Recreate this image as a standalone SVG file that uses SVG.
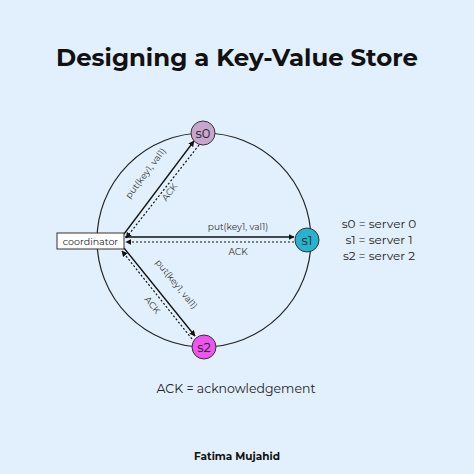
<svg xmlns="http://www.w3.org/2000/svg" width="474" height="474" viewBox="0 0 474 474">
<style>
text{font-family:"Montserrat","Inter","Noto Sans","Liberation Sans",sans-serif;fill:#222;}
.lbl{font-size:9px;fill:#333;}
.node{stroke:#333;stroke-width:1;}
.nt{font-size:13px;text-anchor:middle;}
.solid{stroke:#111;stroke-width:1.3;fill:none;}
.dash{stroke:#111;stroke-width:1.2;fill:none;stroke-dasharray:2 2;}
</style>
<defs>
<marker id="ah" viewBox="0 0 10 10" refX="9" refY="5" markerWidth="6" markerHeight="6" orient="auto" markerUnits="userSpaceOnUse">
<path d="M0,0 L10,5 L0,10 z" fill="#111"/>
</marker>
</defs>
<rect width="474" height="474" fill="#e2effc"/>
<text x="237" y="66" font-size="24" font-weight="700" text-anchor="middle" textLength="362" lengthAdjust="spacingAndGlyphs" style="fill:#111">Designing a Key-Value Store</text>
<circle cx="204" cy="240" r="107" fill="none" stroke="#222" stroke-width="1.2"/>
<g id="connectors">
<line class="solid" x1="124" y1="234" x2="194" y2="141" marker-end="url(#ah)"/>
<line class="dash" x1="199" y1="145" x2="126" y2="238" marker-end="url(#ah)"/>
<line class="solid" x1="125" y1="237" x2="294" y2="237" marker-end="url(#ah)"/>
<line class="dash" x1="294" y1="242" x2="126" y2="242" marker-end="url(#ah)"/>
<line class="solid" x1="124" y1="248" x2="195" y2="336" marker-end="url(#ah)"/>
<line class="dash" x1="192" y1="339" x2="122" y2="251" marker-end="url(#ah)"/>
<text class="lbl" text-anchor="middle" transform="translate(148,175) rotate(-53)">put(key1, val1)</text>
<text class="lbl" text-anchor="middle" transform="translate(172,194) rotate(-53)">ACK</text>
<text class="lbl" x="238" y="230" text-anchor="middle">put(key1, val1)</text>
<text class="lbl" x="238" y="255" text-anchor="middle">ACK</text>
<text class="lbl" text-anchor="middle" transform="translate(174,286) rotate(51)">put(key1, val1)</text>
<text class="lbl" text-anchor="middle" transform="translate(150,307) rotate(51)">ACK</text>
</g>
<g id="coordinator">
<rect x="57" y="233" width="67" height="16" fill="#fff" stroke="#333" stroke-width="1"/>
<text x="90.5" y="244.5" font-size="9.5" text-anchor="middle">coordinator</text>
</g>
<g id="s0">
<circle class="node" cx="203" cy="133" r="12" fill="#c7a5cc"/>
<text class="nt" x="203" y="137.5">s0</text>
</g>
<g id="s1">
<circle class="node" cx="307" cy="240" r="12" fill="#27b3cf"/>
<text class="nt" x="307" y="244.5">s1</text>
</g>
<g id="s2">
<circle class="node" cx="204" cy="347" r="12" fill="#ee55ee"/>
<text class="nt" x="204" y="351.5">s2</text>
</g>
<g id="legend" font-size="12" text-anchor="middle">
<text x="379" y="228">s0 = server 0</text>
<text x="379" y="244">s1 = server 1</text>
<text x="379" y="260">s2 = server 2</text>
</g>
<text x="236" y="393" font-size="12.5" text-anchor="middle">ACK = acknowledgement</text>
<text x="237" y="460" font-size="10.5" font-weight="700" text-anchor="middle" style="fill:#111">Fatima Mujahid</text>
</svg>
